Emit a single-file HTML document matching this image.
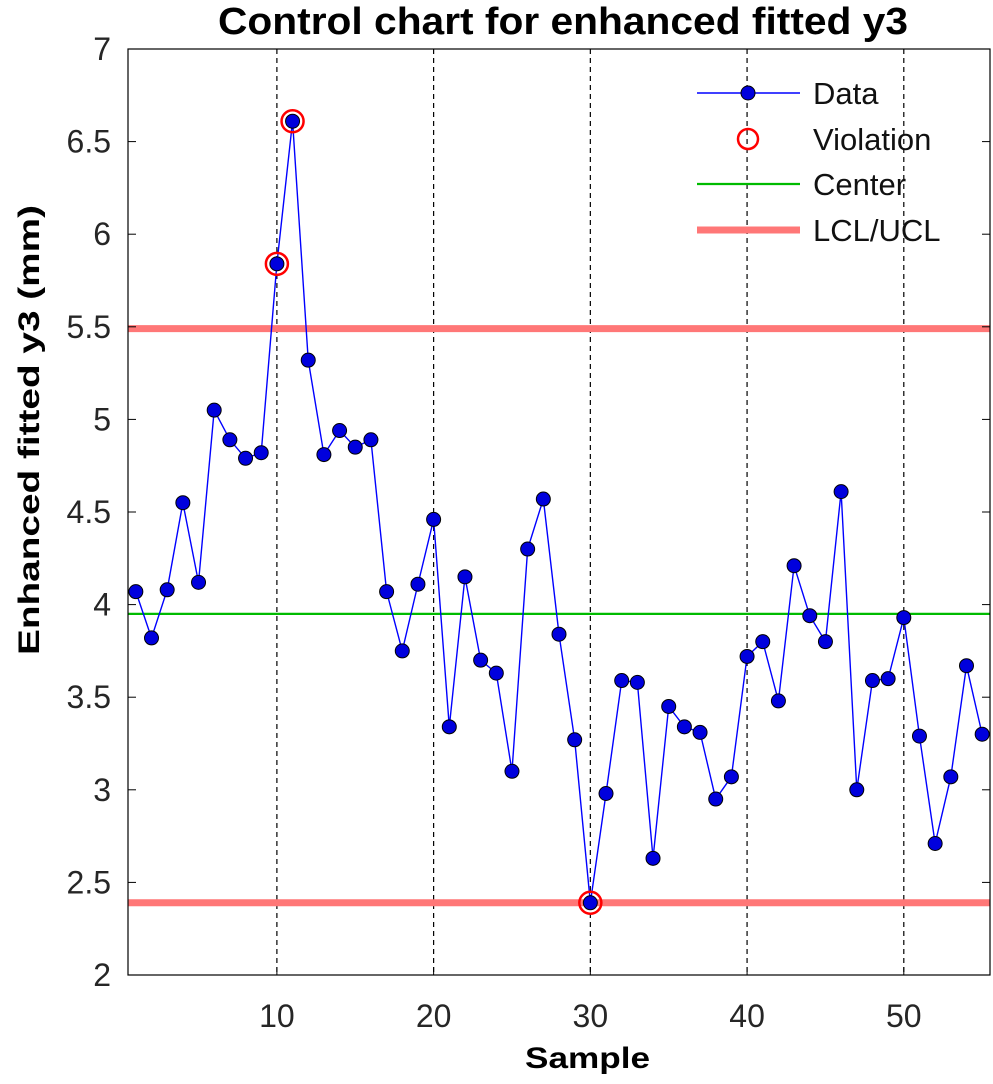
<!DOCTYPE html>
<html><head><meta charset="utf-8"><style>
html,body{margin:0;padding:0;background:#fff;}
svg text{font-family:"Liberation Sans",Arial,sans-serif;}
</style></head><body>
<svg id="chart" width="993" height="1079" viewBox="0 0 993 1079" xmlns="http://www.w3.org/2000/svg"></svg>
<script>
const samples=[];for(let i=1;i<=55;i++)samples.push(i);
const values=[4.07,3.82,4.08,4.55,4.12,5.05,4.89,4.79,4.82,5.84,6.61,5.32,4.81,4.94,4.85,4.89,4.07,3.75,4.11,4.46,3.34,4.15,3.70,3.63,3.10,4.30,4.57,3.84,3.27,2.39,2.98,3.59,3.58,2.63,3.45,3.34,3.31,2.95,3.07,3.72,3.80,3.48,4.21,3.94,3.80,4.61,3.00,3.59,3.60,3.93,3.29,2.71,3.07,3.67,3.30];
const violations=[10,11,30];
const centerValue=3.95;
const limits=[2.39,5.49];
const yTicks=[2,2.5,3,3.5,4,4.5,5,5.5,6,6.5,7];
const xTicks=[10,20,30,40,50];
const NS="http://www.w3.org/2000/svg";
const svg=document.getElementById('chart');
const L=128,R=990,T=49,B=975;
const xs=v=>L+(v-0.5)/55*(R-L);
const ys=v=>B-(v-2)/5*(B-T);
function mk(tag,attrs,parent){const e=document.createElementNS(NS,tag);for(const k in attrs)e.setAttribute(k,attrs[k]);(parent||svg).appendChild(e);return e;}
xTicks.forEach(t=>{const l=mk('line',{x1:xs(t),x2:xs(t),y1:T,y2:B,stroke:'#000','stroke-width':1.2,'stroke-dasharray':'5,4'});

});
limits.forEach((v,i)=>{const l=mk('line',{x1:L,x2:R,y1:ys(v),y2:ys(v),stroke:'#f77',"stroke-width":7});

});
const c=mk('line',{x1:L,x2:R,y1:ys(centerValue),y2:ys(centerValue),stroke:'#0b0','stroke-width':2.2});


const pl=mk('polyline',{points:values.map((v,i)=>xs(samples[i])+','+ys(v)).join(' '),fill:'none',stroke:'#00f','stroke-width':1.4});


values.forEach((v,i)=>{const p=mk('circle',{cx:xs(samples[i]),cy:ys(v),r:7,fill:'#00d',stroke:'#000','stroke-width':1});

});
violations.forEach(s=>{const p=mk('circle',{cx:xs(s),cy:ys(values[s-1]),r:11,fill:'none',stroke:'#f00','stroke-width':2.5});

});
const box=mk('rect',{x:L,y:T,width:R-L,height:B-T,fill:'none',stroke:'#000','stroke-width':1.2});


yTicks.forEach(t=>{mk('line',{x1:L,x2:L+8,y1:ys(t),y2:ys(t),stroke:'#000'});mk('line',{x1:R-8,x2:R,y1:ys(t),y2:ys(t),stroke:'#000'});
const tx=mk('text',{x:L-17,y:ys(t)+11,'text-anchor':'end','font-size':32,fill:'#262626'});tx.textContent=String(t);

});
xTicks.forEach(t=>{mk('line',{x1:xs(t),x2:xs(t),y1:B,y2:B-8,stroke:'#000'});
const tx=mk('text',{x:xs(t),y:1027,'text-anchor':'middle','font-size':32,fill:'#262626'});tx.textContent=String(t);

});
const ti=mk('text',{x:218,y:34,'font-size':38,'font-weight':'bold',textLength:690,lengthAdjust:'spacingAndGlyphs'});ti.textContent='Control chart for enhanced fitted y3';


const xl=mk('text',{x:525,y:1068,'font-size':30,'font-weight':'bold',textLength:125,lengthAdjust:'spacingAndGlyphs'});xl.textContent='Sample';


const yl=mk('text',{x:-225,y:0,'font-size':30,'font-weight':'bold',textLength:450,lengthAdjust:'spacingAndGlyphs',transform:'translate(39,430) rotate(-90)'});yl.textContent='Enhanced fitted y3 (mm)';


const lg=mk('g',{});


mk('line',{x1:697,x2:800,y1:93,y2:93,stroke:'#00f','stroke-width':1.4},lg);
mk('circle',{cx:748,cy:93,r:7,fill:'#00d',stroke:'#000'},lg);
mk('circle',{cx:748,cy:139,r:10,fill:'none',stroke:'#f00','stroke-width':2.5},lg);
mk('line',{x1:697,x2:800,y1:184,y2:184,stroke:'#0b0','stroke-width':2.2},lg);
mk('line',{x1:697,x2:800,y1:230,y2:230,stroke:'#f77','stroke-width':7},lg);
[['Data',93],['Violation',139],['Center',184],['LCL/UCL',230]].forEach(([s,y])=>{const t=mk('text',{x:813,y:y+11,'font-size':31,fill:'#111'},lg);t.textContent=s;

});
</script>
</body></html>
